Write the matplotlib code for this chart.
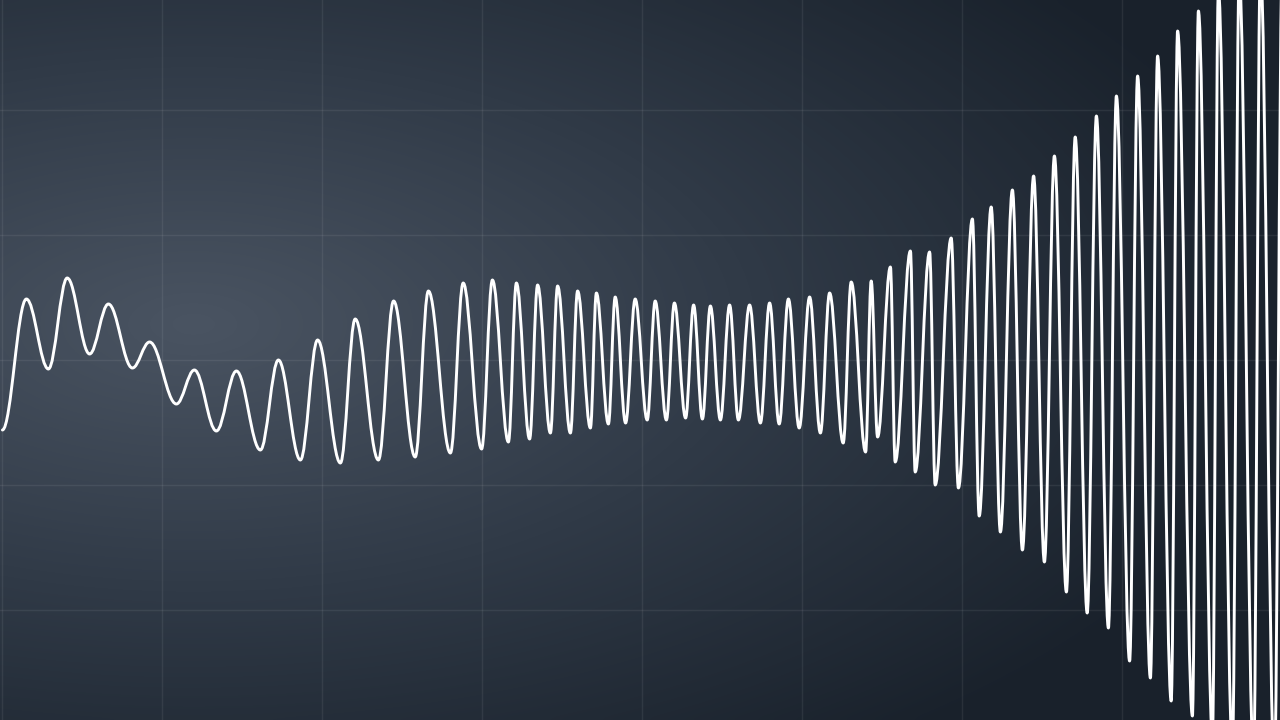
import numpy as np
import matplotlib
matplotlib.use("Agg")
import matplotlib.pyplot as plt
from matplotlib.path import Path
from matplotlib.patches import PathPatch
from matplotlib.colors import LinearSegmentedColormap

# Waveform: successive peaks and troughs
# time in ms, amplitude in arbitrary units (grid every 125)
time_ms = [
    0.0, 3.0, 5.75, 8.1, 10.9, 13.25, 16.25, 18.4, 21.75, 24.0,
    26.75, 29.25, 32.25, 34.5, 37.25, 39.4, 42.25, 44.1, 47.0, 48.9,
    51.6, 53.25, 56.0, 57.6, 59.9, 61.25, 63.25, 64.25, 65.9, 66.9,
    68.5, 69.4, 71.0, 71.9, 73.5, 74.25, 75.75, 76.6, 77.9, 79.1,
    80.6, 81.6, 83.0, 84.0, 85.4, 86.4, 87.5, 88.5, 89.75, 90.9,
    92.0, 93.4, 94.75, 95.9, 97.1, 98.25, 99.6, 100.9, 102.25, 103.4,
    105.1, 106.1, 107.9, 108.6, 109.4, 111.0, 111.6, 113.5, 114.1, 115.9,
    116.6, 118.6, 119.5, 121.25, 122.1, 123.6, 124.75, 126.25, 127.5, 128.9,
    130.25, 131.5, 133.0, 134.1, 135.6, 136.75, 138.25, 139.25, 140.9, 141.9,
    143.5, 144.4, 146.1, 146.9, 148.75, 149.5, 151.25, 152.0, 153.75, 154.6,
    156.4, 157.25, 159.0, 160.0,
]
amplitude = [
    -70, 61, -9, 82, 6, 56, -8, 18, -44, -10,
    -71, -11, -90, 0, -100, 20, -103, 41, -100, 59,
    -97, 69, -93, 77, -89, 80, -82, 77, -79, 75,
    -73, 74, -73, 69, -68, 67, -64, 63, -63, 61,
    -60, 59, -60, 57, -58, 55, -59, 54, -60, 55,
    -60, 55, -63, 57, -64, 61, -68, 63, -73, 67,
    -83, 78, -92, 79, -77, 93, -102, 109, -112, 108,
    -125, 122, -128, 141, -156, 153, -172, 170, -190, 184,
    -202, 204, -232, 223, -253, 244, -268, 264, -301, 284,
    -318, 304, -341, 329, -356, 349, -375, 370, -390, 385,
    -400, 395, -410, 405,
]

fig = plt.figure(figsize=(12.8, 7.2), dpi=100)
ax = fig.add_axes([0, 0, 1, 1])
ax.set_xlim(-0.3, 159.7)
ax.set_ylim(-360, 360)

# background gradient, lighter on the left, dark towards the right
bg = LinearSegmentedColormap.from_list("bg", ["#4a5462", "#303a47", "#19212b"])
gx, gy = np.meshgrid(np.linspace(0, 1, 256), np.linspace(0, 1, 144))
d = np.sqrt(((gx - 0.15) / 1.0) ** 2 + ((gy - 0.45) / 0.85) ** 2)
ax.imshow(d, cmap=bg, vmin=0, vmax=0.88, extent=[-0.3, 159.7, -360, 360],
          aspect="auto", zorder=0, interpolation="bicubic")

# faint grid
for gxv in range(0, 160, 20):
    ax.axvline(gxv, color="white", alpha=0.07, lw=1, zorder=1)
for gyv in [-250, -125, 0, 125, 250]:
    ax.axhline(gyv, color="white", alpha=0.07, lw=1, zorder=1)

# smooth line through extrema: cubic segments with flat tangents at each extremum
verts = [(time_ms[0], amplitude[0])]
codes = [Path.MOVETO]
for i in range(len(time_ms) - 1):
    x0, y0 = time_ms[i], amplitude[i]
    x1, y1 = time_ms[i + 1], amplitude[i + 1]
    dx = x1 - x0
    verts += [(x0 + 0.37 * dx, y0), (x1 - 0.37 * dx, y1), (x1, y1)]
    codes += [Path.CURVE4] * 3
ax.add_patch(PathPatch(Path(verts, codes), fill=False, edgecolor="white",
                       lw=2.1, zorder=3, capstyle="round", joinstyle="round"))

ax.axis("off")
fig.savefig("out.png", dpi=100)
